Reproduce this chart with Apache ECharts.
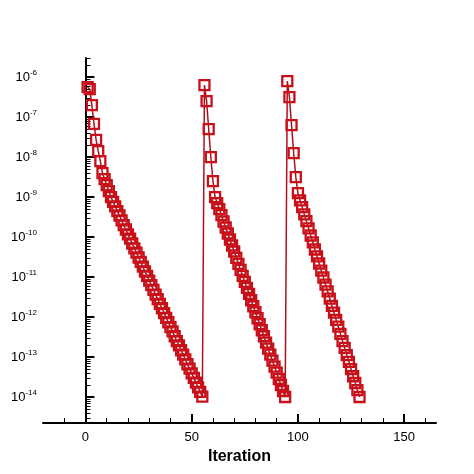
<!DOCTYPE html>
<html>
<head>
<meta charset="utf-8">
<script src="https://cdn.jsdelivr.net/npm/echarts@6/dist/echarts.min.js"></script>
<style>html,body{margin:0;padding:0;background:#fff}#chart{width:474px;height:474px}</style>
</head>
<body>
<div id="chart"></div>
<script>
// residual history, log10 values
var iterations1 = [1,2,3,4,5,6,7,8,9,10,11,12,13,14,15,16,17,18,19,20,21,22,23,24,25,26,27,28,29,30,31,32,33,34,35,36,37,38,39,40,41,42,43,44,45,46,47,48,49,50,51,52,53,54,55];
var logRes1 = [-6.25,-6.3,-6.7,-7.17,-7.57,-7.85,-8.1,-8.4,-8.55,-8.7,-8.85,-9.0,-9.12,-9.23,-9.35,-9.46,-9.58,-9.70,-9.81,-9.93,-10.04,-10.16,-10.28,-10.39,-10.51,-10.62,-10.74,-10.86,-10.97,-11.09,-11.20,-11.32,-11.44,-11.55,-11.67,-11.78,-11.90,-12.02,-12.13,-12.25,-12.36,-12.48,-12.60,-12.71,-12.83,-12.94,-13.06,-13.18,-13.29,-13.41,-13.52,-13.64,-13.76,-13.87,-13.99];
var iterations2 = [56,57,58,59,60,61,62,63,64,65,66,67,68,69,70,71,72,73,74,75,76,77,78,79,80,81,82,83,84,85,86,87,88,89,90,91,92,93,94];
var logRes2 = [-6.2,-6.6,-7.3,-8.0,-8.6,-9.0,-9.15,-9.30,-9.45,-9.61,-9.76,-9.91,-10.06,-10.21,-10.36,-10.52,-10.67,-10.82,-10.97,-11.12,-11.27,-11.42,-11.58,-11.73,-11.88,-12.03,-12.18,-12.33,-12.48,-12.64,-12.79,-12.94,-13.09,-13.24,-13.39,-13.55,-13.70,-13.85,-14.0];
var iterations3 = [95,96,97,98,99,100,101,102,103,104,105,106,107,108,109,110,111,112,113,114,115,116,117,118,119,120,121,122,123,124,125,126,127,128,129];
var logRes3 = [-6.1,-6.5,-7.2,-7.9,-8.5,-8.9,-9.08,-9.25,-9.43,-9.6,-9.78,-9.96,-10.13,-10.31,-10.48,-10.66,-10.84,-11.01,-11.19,-11.36,-11.54,-11.72,-11.89,-12.07,-12.24,-12.42,-12.6,-12.77,-12.95,-13.12,-13.3,-13.48,-13.65,-13.83,-14.0];

var yDecades = [-14,-13,-12,-11,-10,-9,-8,-7,-6];
var xMajor = [0,50,100,150];
var xMinor = [-10,10,20,30,40,60,70,80,90,110,120,130,140,160];

var data = [];
[[iterations1, logRes1], [iterations2, logRes2], [iterations3, logRes3]].forEach(function (s) {
    for (var i = 0; i < s[0].length; i++) data.push([s[0][i], s[1][i]]);
});

var yMinor = [];
for (var d = -15; d <= -6; d++) {
    for (var k = 2; k <= 9; k++) {
        var v = d + Math.log10(k);
        if (v > -14.65 && v < -5.52) yMinor.push(v);
    }
}

var font = '"Liberation Sans", Arial, sans-serif';
var line = {show: true, lineStyle: {color: '#000', width: 2}};

var option = {
    animation: false,
    grid: {left: 43, right: 38, top: 58, bottom: 51},
    xAxis: [{
        type: 'value', min: -20, max: 165, position: 'bottom',
        axisLine: line,
        axisTick: {show: true, inside: true, length: 9, customValues: xMajor, lineStyle: {color: '#000', width: 2}},
        axisLabel: {customValues: xMajor, color: '#000', fontFamily: font, fontSize: 13, margin: 8},
        splitLine: {show: false},
        name: 'Iteration', nameLocation: 'middle', nameGap: 24,
        nameTextStyle: {fontFamily: font, fontSize: 16, fontWeight: 'bold', color: '#000'}
    }, {
        type: 'value', min: -20, max: 165, position: 'bottom',
        axisLine: {show: false},
        axisTick: {show: true, inside: true, length: 5, customValues: xMinor, lineStyle: {color: '#000', width: 1}},
        axisLabel: {show: false}, splitLine: {show: false}
    }],
    yAxis: [{
        type: 'value', min: -14.65, max: -5.52, position: 'left',
        axisLine: line,
        axisTick: {show: true, inside: true, length: 9, customValues: yDecades, lineStyle: {color: '#000', width: 2}},
        axisLabel: {
            customValues: yDecades, margin: 6,
            formatter: function (v) { return '{b|10}{e|' + Math.round(v) + '}'; },
            rich: {
                b: {fontFamily: font, fontSize: 13, color: '#000'},
                e: {fontFamily: font, fontSize: 8, color: '#000', verticalAlign: 'top', padding: [0, 0, 8, 0]}
            }
        },
        splitLine: {show: false}
    }, {
        type: 'value', min: -14.65, max: -5.52, position: 'left',
        axisLine: {show: false},
        axisTick: {show: true, inside: true, length: 5, customValues: yMinor, lineStyle: {color: '#000', width: 1}},
        axisLabel: {show: false}, splitLine: {show: false}
    }],
    series: [{
        type: 'line',
        data: data,
        symbol: 'rect',
        symbolSize: 10,
        lineStyle: {color: '#b0101e', width: 1.5},
        itemStyle: {color: 'rgba(255,255,255,0)', borderColor: '#c8101a', borderWidth: 2.3}
    }]
};

echarts.init(document.getElementById('chart')).setOption(option);
</script>
</body>
</html>
